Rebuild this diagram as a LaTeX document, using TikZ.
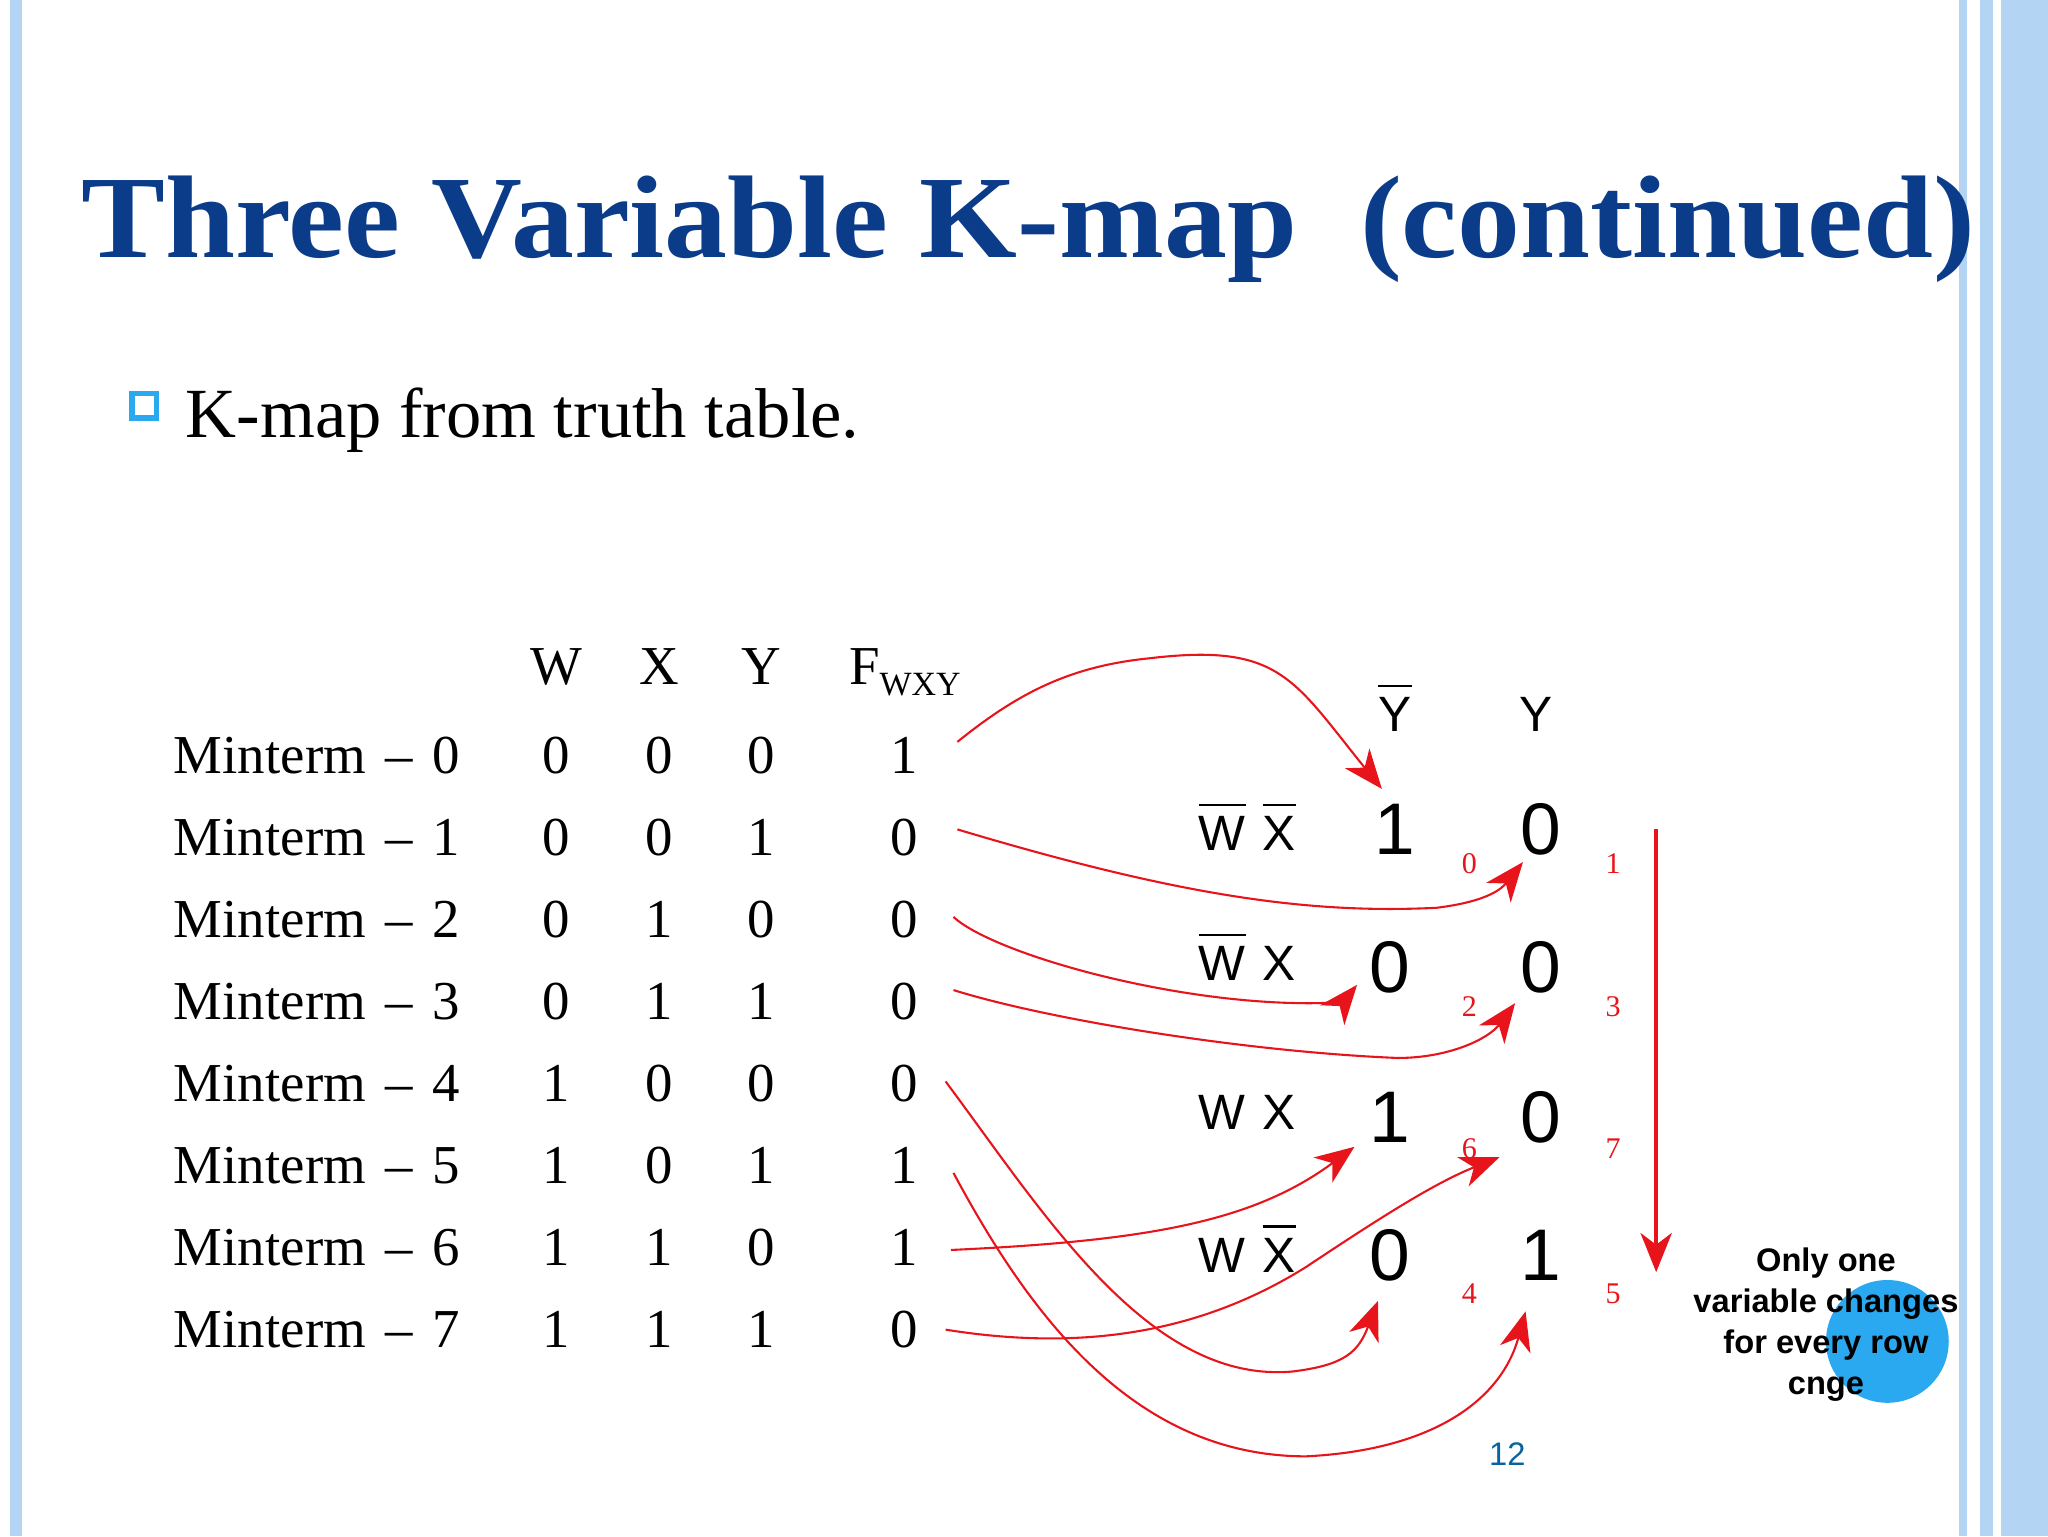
\documentclass[tikz,border=0pt]{standalone}
\usepackage{fontspec}
\setmainfont{Liberation Serif}
\newfontfamily\ksans{Liberation Sans}
\usetikzlibrary{arrows.meta}
\definecolor{titleblue}{HTML}{0B3C8A}
\definecolor{barblue}{HTML}{B4D4F4}
\definecolor{dotblue}{HTML}{2AA8F0}
\definecolor{kred}{HTML}{E8141C}
\newlength\ovw
\newcommand\ovl[1]{\settowidth\ovw{#1}\ooalign{#1\cr\rule[0.9em]{\ovw}{1.6pt}\cr}}
\tikzset{
  tt/.style={anchor=base,font=\fontsize{42}{42}\selectfont},
  kv/.style={anchor=base,font=\ksans\fontsize{56}{56}\selectfont},
  kl/.style={anchor=base,font=\ksans\fontsize{38}{38}\selectfont},
  rn/.style={anchor=base,text=kred,font=\fontsize{23}{23}\selectfont},
  rarr/.style={draw=kred,line width=1.6pt,-{Stealth[length=30pt,width=24pt,inset=9pt]}},
}
\begin{document}
\begin{tikzpicture}[x=1pt,y=-1pt]
\useasboundingbox (0,0) rectangle (1568,1176);
\fill[white] (0,0) rectangle (1568,1176);
% side bars
\fill[barblue] (8,0) rectangle (17,1176);
\fill[barblue] (1500,0) rectangle (1506,1176);
\fill[barblue] (1516,0) rectangle (1526,1176);
\fill[barblue] (1532,0) rectangle (1568,1176);
% title
\node[anchor=base west,text=titleblue,font=\bfseries\fontsize{90}{90}\selectfont,inner sep=0,xscale=1.07] (title) at (62,197) {Three Variable K-map\ \ (continued)};
% bullet
\draw[dotblue,line width=4pt] (101,301) rectangle (120,320);
\node[anchor=base west,inner sep=0,font=\fontsize{54}{54}\selectfont] (sub) at (142,335) {K-map from truth table.};
% table header
\node[tt] (hW) at (426,524) {W};
\node[tt] (hX) at (505,524) {X};
\node[tt] (hY) at (583,524) {Y};
\node[tt] (hF) at (693,524) {F\textsubscript{\fontsize{26}{26}\selectfont WXY}};
% table rows
\foreach \i/\w/\x/\y/\f in {0/0/0/0/1,1/0/0/1/0,2/0/1/0/0,3/0/1/1/0,4/1/0/0/0,5/1/0/1/1,6/1/1/0/1,7/1/1/1/0}{
  \pgfmathsetmacro\yy{592+62.8*\i}
  \node[tt,anchor=base west,inner sep=0] (m\i) at (133,\yy) {Minterm\hspace{15pt}--\hspace{15pt}\i};
  \node[tt] (w\i) at (426,\yy) {\w};
  \node[tt] (x\i) at (505,\yy) {\x};
  \node[tt] (y\i) at (583,\yy) {\y};
  \node[tt] (f\i) at (692,\yy) {\f};
}
% K-map
\node[kl] (cYb) at (1068,560) {\ovl{Y}};
\node[kl] (cY) at (1176,560) {Y};
\node[kl] (r0) at (955,651) {\ovl{W}\hspace{13pt}\ovl{X}};
\node[kl] (r1) at (955,751) {\ovl{W}\hspace{13pt}X};
\node[kl] (r2) at (955,865) {W\hspace{13pt}X};
\node[kl] (r3) at (955,974) {W\hspace{13pt}\ovl{X}};
\node[kv] (k00) at (1068,654) {1};
\node[kv] (k01) at (1180,654) {0};
\node[kv] (k10) at (1064,760) {0};
\node[kv] (k11) at (1180,760) {0};
\node[kv] (k20) at (1064,875) {1};
\node[kv] (k21) at (1180,875) {0};
\node[kv] (k30) at (1064,980) {0};
\node[kv] (k31) at (1180,980) {1};
% red cell numbers
\node[rn] (n0) at (1125,669) {0};
\node[rn] (n1) at (1235,669) {1};
\node[rn] (n2) at (1125,778) {2};
\node[rn] (n3) at (1235,778) {3};
\node[rn] (n6) at (1125,887) {6};
\node[rn] (n7) at (1235,887) {7};
\node[rn] (n4) at (1125,998) {4};
\node[rn] (n5) at (1235,998) {5};
% vertical arrow
\coordinate (va) at (1268,635);
\coordinate (vb) at (1268,974);
\draw[rarr,line width=2.6pt] (va) -- (vb);
% note
\fill[dotblue] (1445,1027) circle (47);
\node[align=center,font=\ksans\bfseries\fontsize{25}{31.5}\selectfont] (note) at (1398,1014) {Only one\\variable changes\\for every row\\cnge};
\node[anchor=base,text=titleblue!80!cyan,font=\ksans\fontsize{25}{25}\selectfont] (pg) at (1154,1122) {12};
% arrows
\coordinate (s0) at (733,568);  \coordinate (e0) at (1058,604);
\coordinate (s1) at (733,635);  \coordinate (e1) at (1166,660);
\coordinate (s2) at (730,702);  \coordinate (e2) at (1039,754);
\coordinate (s3) at (730,758);  \coordinate (e3) at (1160,768);
\coordinate (s4) at (724,828);  \coordinate (e4) at (1055,996);
\coordinate (s5) at (730,898);  \coordinate (e5) at (1168,1004);
\coordinate (s6) at (728,957);  \coordinate (e6) at (1037,878);
\coordinate (s7) at (724,1018); \coordinate (e7) at (1148,886);
\draw[rarr] (s0) .. controls (780,530) and (820,510) .. (880,504) .. controls (980,492) and (990,520) .. (e0);
\draw[rarr] (s1) .. controls (900,685) and (1000,700) .. (1100,695) .. controls (1140,690) and (1150,680) .. (e1);
\draw[rarr] (s2) .. controls (760,730) and (900,770) .. (1010,768) .. controls (1020,768) and (1030,765) .. (e2);
\draw[rarr] (s3) .. controls (800,780) and (950,805) .. (1070,810) .. controls (1110,810) and (1140,795) .. (e3);
\draw[rarr] (s4) .. controls (800,930) and (880,1060) .. (990,1050) .. controls (1030,1045) and (1040,1035) .. (e4);
\draw[rarr] (s5) .. controls (790,1010) and (870,1115) .. (1000,1115) .. controls (1100,1110) and (1150,1070) .. (e5);
\draw[rarr] (s6) .. controls (880,950) and (960,935) .. (e6);
\draw[rarr] (s7) .. controls (830,1035) and (920,1020) .. (1000,970) .. controls (1060,930) and (1100,905) .. (e7);
\end{tikzpicture}
\end{document}
